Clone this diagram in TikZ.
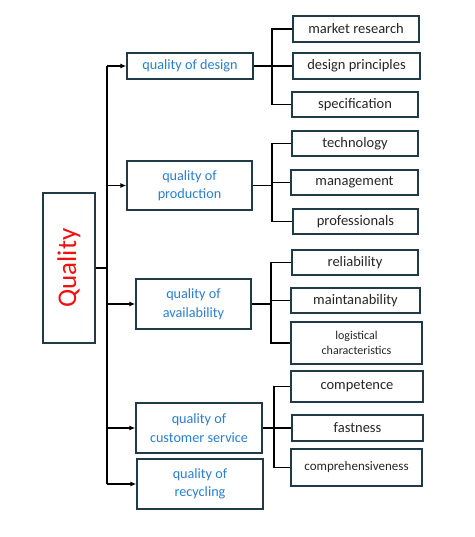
\documentclass[tikz,border=0pt]{standalone}
\usepackage{fontspec}
\setmainfont{Carlito}
\usetikzlibrary{arrows.meta}
\definecolor{boxline}{HTML}{203A4A}
\definecolor{qblue}{HTML}{2A7FD0}
\definecolor{qred}{HTML}{F01010}
\begin{document}
\begin{tikzpicture}[x=1pt,y=-1pt,
  box/.style={draw=boxline,line width=1.3pt,fill=white,inner sep=1pt,align=center},
  mainbox/.style={box,text=qblue,font=\fontsize{14.2}{18.5}\selectfont},
  subbox/.style={box,text=black!85,font=\fontsize{14.5}{16}\selectfont},
  conn/.style={draw=black,line width=1.2pt},
  arr/.style={conn,-{Latex[length=6pt,width=5pt]}}]
\useasboundingbox (0,0) rectangle (474,537);
% root
\node[box,minimum width=52pt,minimum height=150pt] (q) at (69,268)
  {\rotatebox{90}{\textcolor{qred}{\fontsize{27}{27}\selectfont Quality}}};
% main branches
\node[mainbox,minimum width=126pt,minimum height=26pt] (des) at (190,66) {quality of design};
\node[mainbox,minimum width=125pt,minimum height=49pt] (pro) at (189.5,185.5) {quality of\\production};
\node[mainbox,minimum width=115pt,minimum height=50pt] (ava) at (193.5,304) {quality of\\availability};
\node[mainbox,minimum width=126pt,minimum height=50pt] (cus) at (199,428) {quality of\\customer service};
\node[mainbox,minimum width=126pt,minimum height=50pt] (rec) at (200,484) {quality of\\recycling};
% children
\node[subbox,minimum width=126pt,minimum height=26pt] (mr) at (356,29) {market research};
\node[subbox,minimum width=127pt,minimum height=26pt] (dp) at (356.5,66) {design principles};
\node[subbox,minimum width=126pt,minimum height=25pt] (sp) at (355,104.5) {specification};
\node[subbox,minimum width=126pt,minimum height=25pt] (te) at (355,143.5) {technology};
\node[subbox,minimum width=127pt,minimum height=25pt] (ma) at (354.5,182.5) {management};
\node[subbox,minimum width=125pt,minimum height=25pt] (pr) at (355.5,221.5) {professionals};
\node[subbox,minimum width=126pt,minimum height=25pt] (re) at (355,262.5) {reliability};
\node[subbox,minimum width=129pt,minimum height=25pt] (mt) at (355.5,300.5) {maintanability};
\node[subbox,minimum width=131pt,minimum height=42pt,font=\fontsize{12}{15}\selectfont] (lo) at (356.5,343) {logistical\\characteristics};
\node[subbox,minimum width=132pt,minimum height=31pt] (co) at (357,386.5) {competence};
\node[subbox,minimum width=131pt,minimum height=26pt] (fa) at (357.5,428) {fastness};
\node[subbox,minimum width=131pt,minimum height=37pt,font=\fontsize{13}{15}\selectfont] (cp) at (356.5,467.5) {comprehensiveness};
% trunk
\coordinate (ttop) at (107,66);
\coordinate (tbot) at (107,484);
\coordinate (tq) at (107,268);
\draw[conn] (q.east) -- (tq);
\draw[conn] (ttop) -- (tbot);
\draw[arr] (ttop) -- (des.west);
\draw[arr] (ttop |- pro.west) -- (pro.west);
\draw[arr] (ttop |- ava.west) -- (ava.west);
\draw[arr] (ttop |- cus.west) -- (cus.west);
\draw[arr] (tbot) -- (rec.west);
% sub buses
\coordinate (b1) at (272,66);
\draw[conn] (des.east) -- (b1) -- (dp.west);
\draw[conn] (mr.west) -| (b1) |- (sp.west);
\coordinate (b2) at (272,185.5);
\draw[conn] (pro.east) -- (b2);
\draw[conn] (te.west) -| (b2) |- (pr.west);
\draw[conn] (b2 |- ma.west) -- (ma.west);
\coordinate (b3) at (271,304);
\draw[conn] (ava.east) -- (b3);
\draw[conn] (re.west) -| (b3) |- (lo.west);
\draw[conn] (b3 |- mt.west) -- (mt.west);
\coordinate (b4) at (274,428);
\draw[conn] (cus.east) -- (b4) -- (fa.west);
\draw[conn] (co.west) -| (b4) |- (cp.west);
\end{tikzpicture}
\end{document}
